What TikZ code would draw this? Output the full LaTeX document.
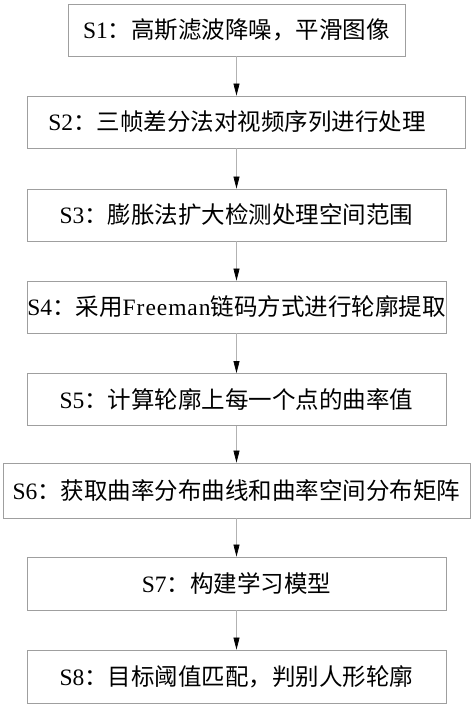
\documentclass[tikz,border=0pt]{standalone}
\usepackage{fontspec}
\setmainfont{Liberation Serif}
\newfontfamily\cjk{Noto Sans CJK SC}
\newfontfamily\latinwide[LetterSpace=4]{Liberation Serif}
\usetikzlibrary{arrows.meta}

\tikzset{
  stepbox/.style={draw=gray!75, line width=0.8pt, inner sep=0pt,
    minimum width=419pt, minimum height=52pt,
    font=\fontsize{23.5}{25}\selectfont},
  flow/.style={draw=gray!60, line width=0.7pt,
    -{Triangle[length=12pt,width=6pt,black]}}
}

\begin{document}
\begin{tikzpicture}[x=1pt, y=-1pt]

	\useasboundingbox (0,0) rectangle (474,707);

	\node[stepbox, minimum width=337pt] (s1) at (236.5,30)
	{S1{\cjk ：高斯滤波降噪，平滑图像}};
	\node[stepbox, minimum width=438pt] (s2) at (246,122)
	{S2{\cjk ：三帧差分法对视频序列进行处理}\hspace*{18pt}};
	\node[stepbox] (s3) at (236.5,215)
	{S3{\cjk ：膨胀法扩大检测处理空间范围}};
	\node[stepbox] (s4) at (236.5,307)
	{S4{\cjk ：采用}{\latinwide Freeman}{\cjk 链码方式进行轮廓提取}};
	\node[stepbox] (s5) at (236.5,399.5)
	{S5{\cjk ：计算轮廓上每一个点的曲率值}};
	\node[stepbox, minimum width=467pt, minimum height=55pt] (s6) at (236.5,490.5)
	{S6{\cjk ：获取曲率分布曲线和曲率空间分布矩阵}};
	\node[stepbox, minimum height=53pt] (s7) at (236.5,583.5)
	{S7{\cjk ：构建学习模型}};
	\node[stepbox, minimum height=53pt] (s8) at (236.5,676.5)
	{S8{\cjk ：目标阈值匹配，判别人形轮廓}};

	% connectors
	\draw[flow] (s1.south) -- (s1.south |- s2.north);
	\foreach \a/\b in {s2/s3, s3/s4, s4/s5, s5/s6, s6/s7, s7/s8}
	  \draw[flow] (s1.south |- \a.south) -- (s1.south |- \b.north);

\end{tikzpicture}
\end{document}
